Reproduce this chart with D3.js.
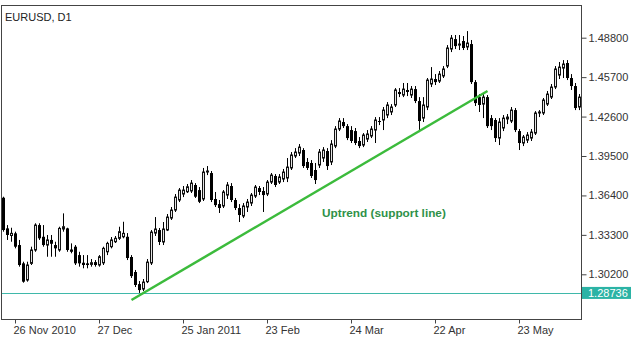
<!DOCTYPE html>
<html>
<head>
<meta charset="utf-8">
<script src="https://cdn.jsdelivr.net/npm/d3@7"></script>
<style>
  body { margin: 0; background: #fff; }
  text { font-family: "Liberation Sans", Arial, sans-serif; }
</style>
</head>
<body>
<div id="chart"></div>
<script>
// EURUSD daily bars, 23 Nov 2010 .. 13 Jun 2011
var open = [
  1.3622, 1.3381, 1.3325, 1.3342, 1.3250, 1.3106, 1.2975, 1.3106, 1.3211, 1.3407,
  1.3315, 1.3250, 1.3290, 1.3250, 1.3211, 1.3376, 1.3381, 1.3215, 1.3237, 1.3171,
  1.3111, 1.3106, 1.3098, 1.3116, 1.3093, 1.3110, 1.3197, 1.3237, 1.3276, 1.3303,
  1.3315, 1.3315, 1.3156, 1.3038, 1.2943, 1.2904, 1.2962, 1.3109, 1.3344, 1.3368,
  1.3274, 1.3368, 1.3462, 1.3525, 1.3604, 1.3651, 1.3669, 1.3675, 1.3722, 1.3682,
  1.3612, 1.3824, 1.3816, 1.3612, 1.3572, 1.3557, 1.3643, 1.3714, 1.3604, 1.3541,
  1.3478, 1.3549, 1.3580, 1.3635, 1.3698, 1.3675, 1.3651, 1.3745, 1.3793, 1.3745,
  1.3769, 1.3777, 1.3856, 1.3950, 1.3973, 1.3997, 1.3903, 1.3895, 1.3840, 1.3879,
  1.3934, 1.3989, 1.3903, 1.4028, 1.4162, 1.4217, 1.4185, 1.4154, 1.4146, 1.4068,
  1.4036, 1.4083, 1.4107, 1.4154, 1.4225, 1.4233, 1.4272, 1.4296, 1.4351, 1.4453,
  1.4429, 1.4469, 1.4429, 1.4476, 1.4382, 1.4248, 1.4335, 1.4516, 1.4555, 1.4539,
  1.4579, 1.4657, 1.4791, 1.4869, 1.4822, 1.4854, 1.4807, 1.4830, 1.4531, 1.4413,
  1.4358, 1.4413, 1.4248, 1.4233, 1.4091, 1.4170, 1.4241, 1.4225, 1.4311, 1.4146,
  1.4052, 1.4075, 1.4091, 1.4130, 1.4288, 1.4288, 1.4358, 1.4413, 1.4492, 1.4586,
  1.4641, 1.4681, 1.4563, 1.4500, 1.4335
];
var high = [
  1.3630, 1.3407, 1.3386, 1.3355, 1.3290, 1.3119, 1.3119, 1.3237, 1.3421, 1.3421,
  1.3407, 1.3329, 1.3329, 1.3276, 1.3394, 1.3499, 1.3386, 1.3263, 1.3250, 1.3197,
  1.3171, 1.3171, 1.3140, 1.3132, 1.3171, 1.3237, 1.3276, 1.3313, 1.3321, 1.3394,
  1.3433, 1.3344, 1.3171, 1.3054, 1.2967, 1.2983, 1.3140, 1.3368, 1.3470, 1.3384,
  1.3431, 1.3494, 1.3549, 1.3651, 1.3698, 1.3714, 1.3730, 1.3761, 1.3737, 1.3706,
  1.3856, 1.3871, 1.3832, 1.3667, 1.3604, 1.3682, 1.3745, 1.3737, 1.3620, 1.3572,
  1.3580, 1.3612, 1.3659, 1.3722, 1.3714, 1.3706, 1.3761, 1.3816, 1.3808, 1.3808,
  1.3848, 1.3934, 1.3981, 1.4012, 1.4044, 1.4012, 1.3934, 1.3918, 1.3895, 1.4005,
  1.4020, 1.4012, 1.4075, 1.4185, 1.4248, 1.4248, 1.4201, 1.4185, 1.4170, 1.4099,
  1.4130, 1.4154, 1.4185, 1.4256, 1.4256, 1.4335, 1.4374, 1.4358, 1.4484, 1.4484,
  1.4524, 1.4524, 1.4500, 1.4500, 1.4413, 1.4413, 1.4563, 1.4649, 1.4594, 1.4618,
  1.4657, 1.4822, 1.4901, 1.4901, 1.4901, 1.4893, 1.4932, 1.4862, 1.4547, 1.4437,
  1.4445, 1.4429, 1.4272, 1.4248, 1.4248, 1.4272, 1.4280, 1.4335, 1.4327, 1.4162,
  1.4115, 1.4138, 1.4162, 1.4303, 1.4311, 1.4406, 1.4461, 1.4516, 1.4657, 1.4689,
  1.4704, 1.4704, 1.4594, 1.4524, 1.4437
];
var low = [
  1.3355, 1.3290, 1.3276, 1.3224, 1.3080, 1.2954, 1.2962, 1.3093, 1.3197, 1.3290,
  1.3237, 1.3158, 1.3158, 1.3158, 1.3197, 1.3355, 1.3197, 1.3185, 1.3093, 1.3080,
  1.3067, 1.3067, 1.3080, 1.3080, 1.3080, 1.3093, 1.3171, 1.3224, 1.3266, 1.3290,
  1.3303, 1.3132, 1.2991, 1.2920, 1.28736, 1.2888, 1.2951, 1.3093, 1.3321, 1.3250,
  1.3250, 1.3360, 1.3447, 1.3510, 1.3588, 1.3627, 1.3659, 1.3659, 1.3620, 1.3580,
  1.3596, 1.3800, 1.3588, 1.3549, 1.3502, 1.3541, 1.3612, 1.3588, 1.3525, 1.3431,
  1.3462, 1.3510, 1.3557, 1.3620, 1.3643, 1.3510, 1.3635, 1.3730, 1.3706, 1.3730,
  1.3745, 1.3745, 1.3840, 1.3934, 1.3950, 1.3856, 1.3840, 1.3777, 1.3730, 1.3856,
  1.3903, 1.3840, 1.3879, 1.4012, 1.4146, 1.4170, 1.4075, 1.4052, 1.4036, 1.4012,
  1.4020, 1.4060, 1.4091, 1.4052, 1.4193, 1.4154, 1.4248, 1.4272, 1.4335, 1.4413,
  1.4413, 1.4421, 1.4406, 1.4366, 1.4138, 1.4217, 1.4311, 1.4492, 1.4508, 1.4524,
  1.4563, 1.4641, 1.4767, 1.4791, 1.4783, 1.4783, 1.4783, 1.4516, 1.4343, 1.4296,
  1.4248, 1.4170, 1.4154, 1.4060, 1.4036, 1.4146, 1.4201, 1.4209, 1.4138, 1.3997,
  1.4028, 1.4052, 1.4068, 1.4115, 1.4256, 1.4272, 1.4343, 1.4398, 1.4476, 1.4555,
  1.4563, 1.4547, 1.4469, 1.4311, 1.4311
];
var close = [
  1.3368, 1.3329, 1.3342, 1.3237, 1.3093, 1.2962, 1.3093, 1.3211, 1.3407, 1.3303,
  1.3250, 1.3290, 1.3260, 1.3224, 1.3381, 1.3394, 1.3211, 1.3197, 1.3106, 1.3106,
  1.3093, 1.3093, 1.3111, 1.3093, 1.3158, 1.3224, 1.3263, 1.3290, 1.3303, 1.3355,
  1.3342, 1.3148, 1.3006, 1.2936, 1.2896, 1.2959, 1.3116, 1.3352, 1.3376, 1.3274,
  1.3376, 1.3470, 1.3525, 1.3627, 1.3682, 1.3682, 1.3708, 1.3737, 1.3630, 1.3590,
  1.3824, 1.3832, 1.3604, 1.3564, 1.3541, 1.3667, 1.3722, 1.3604, 1.3541, 1.3486,
  1.3557, 1.3588, 1.3643, 1.3706, 1.3667, 1.3643, 1.3745, 1.3800, 1.3722, 1.3785,
  1.3824, 1.3863, 1.3958, 1.3981, 1.4020, 1.3871, 1.3856, 1.3793, 1.3761, 1.3981,
  1.3997, 1.3871, 1.4044, 1.4162, 1.4225, 1.4185, 1.4091, 1.4068, 1.4052, 1.4028,
  1.4115, 1.4123, 1.4162, 1.4233, 1.4217, 1.4311, 1.4351, 1.4335, 1.4469, 1.4437,
  1.4476, 1.4453, 1.4476, 1.4382, 1.4225, 1.4351, 1.4547, 1.4555, 1.4531, 1.4594,
  1.4634, 1.4799, 1.4877, 1.4814, 1.4830, 1.4799, 1.4838, 1.4531, 1.4366, 1.4351,
  1.4413, 1.4185, 1.4185, 1.4091, 1.4217, 1.4248, 1.4256, 1.4311, 1.4154, 1.4052,
  1.4099, 1.4115, 1.4138, 1.4288, 1.4296, 1.4390, 1.4437, 1.4492, 1.4634, 1.4649,
  1.4673, 1.4563, 1.4500, 1.4327, 1.4413
];

var priceTicks = [1.30200, 1.33300, 1.36400, 1.39500, 1.42600, 1.45700, 1.48800];
var dateTickBars = [3, 24, 45, 66, 87, 108, 129];
var dateTickLabels = ["26 Nov 2010", "27 Dec", "25 Jan 2011", "23 Feb", "24 Mar", "22 Apr", "23 May"];
var markedPrice = 1.28736;
var trendBars = [32, 121];
var trendPrices = [1.2818, 1.4461];
var title = "EURUSD, D1";
var note = "Uptrend (support line)";

var W = 641, H = 352;
var frame = { left: 1, top: 5, right: 582, bottom: 319 };

var svg = d3.select("#chart").append("svg")
  .attr("width", W).attr("height", H)
  .style("background", "#fff");

var x = d3.scaleBand()
  .domain(d3.range(open.length))
  .range([1.5, 1.5 + 4 * open.length]);
var cx = function(i) { return x(i) + x.bandwidth() / 2; };

var y = d3.scaleLinear()
  .domain([1.302, 1.488])
  .range([274.3, 37.7]);

svg.append("clipPath").attr("id", "plot")
  .append("rect")
  .attr("x", frame.left).attr("y", frame.top)
  .attr("width", frame.right - frame.left).attr("height", frame.bottom - frame.top);

var plot = svg.append("g").attr("clip-path", "url(#plot)");

// marked price line
plot.append("line")
  .attr("x1", frame.left).attr("x2", frame.right)
  .attr("y1", Math.round(y(markedPrice)) + 0.5).attr("y2", Math.round(y(markedPrice)) + 0.5)
  .attr("stroke", "#3fb8aa").attr("stroke-width", 1);

// candles
var bars = plot.append("g").selectAll("g")
  .data(d3.range(open.length))
  .join("g");

bars.append("line")
  .attr("x1", cx).attr("x2", cx)
  .attr("y1", function(i) { return y(high[i]); })
  .attr("y2", function(i) { return y(low[i]); })
  .attr("stroke", "#000").attr("stroke-width", 1);

bars.append("rect")
  .attr("x", function(i) { return close[i] >= open[i] ? cx(i) - 1 : cx(i) - 1.5; })
  .attr("width", function(i) { return close[i] >= open[i] ? 2 : 3; })
  .attr("y", function(i) { return y(Math.max(open[i], close[i])); })
  .attr("height", function(i) {
    return Math.max(1, Math.abs(y(open[i]) - y(close[i])));
  })
  .attr("fill", function(i) { return close[i] >= open[i] ? "#e4e4e4" : "#000"; })
  .attr("stroke", function(i) { return close[i] >= open[i] ? "#111" : "none"; })
  .attr("stroke-width", 1);

// trend line
plot.append("line")
  .attr("x1", cx(trendBars[0])).attr("y1", y(trendPrices[0]))
  .attr("x2", cx(trendBars[1])).attr("y2", y(trendPrices[1]))
  .attr("stroke", "#3cbb3c").attr("stroke-width", 2.5);

svg.append("text")
  .attr("x", 322).attr("y", 217)
  .attr("fill", "#2e9148")
  .attr("font-size", "11.8px").attr("font-weight", "bold")
  .text(note);

// frame
svg.append("rect")
  .attr("x", frame.left + 0.5).attr("y", frame.top + 0.5)
  .attr("width", frame.right - frame.left - 1).attr("height", frame.bottom - frame.top)
  .attr("fill", "none").attr("stroke", "#444");

svg.append("text")
  .attr("x", 5).attr("y", 21)
  .attr("fill", "#222").attr("font-size", "11px")
  .text(title);

// price axis
var yAxis = svg.append("g")
  .attr("transform", "translate(" + (frame.right - 0.5) + ",0)")
  .call(d3.axisRight(y).tickValues(priceTicks).tickSize(5).tickPadding(2)
    .tickFormat(d3.format(".5f")));
yAxis.select(".domain").remove();
yAxis.selectAll("line").attr("stroke", "#444");
yAxis.selectAll("text").attr("fill", "#333").attr("font-size", "11px")
  .style("font-family", "'Liberation Sans', Arial, sans-serif");

// marked price label
var my = y(markedPrice);
svg.append("rect")
  .attr("x", frame.right).attr("y", my - 6)
  .attr("width", 49).attr("height", 12)
  .attr("fill", "#2bb3a5");
svg.append("text")
  .attr("x", frame.right + 6).attr("y", my)
  .attr("dy", "0.35em")
  .attr("fill", "#fff").attr("font-size", "11px")
  .text(d3.format(".5f")(markedPrice));

// date axis
var xAxis = svg.append("g")
  .attr("transform", "translate(0," + (frame.bottom + 0.5) + ")")
  .call(d3.axisBottom(x).tickValues(dateTickBars).tickSize(4).tickPadding(3)
    .tickFormat(function(d, k) { return dateTickLabels[k]; }));
xAxis.select(".domain").remove();
xAxis.selectAll("line").attr("stroke", "#444");
xAxis.selectAll("text").attr("fill", "#333").attr("font-size", "11px")
  .attr("text-anchor", "start").attr("x", -2)
  .style("font-family", "'Liberation Sans', Arial, sans-serif");
</script>
</body>
</html>
